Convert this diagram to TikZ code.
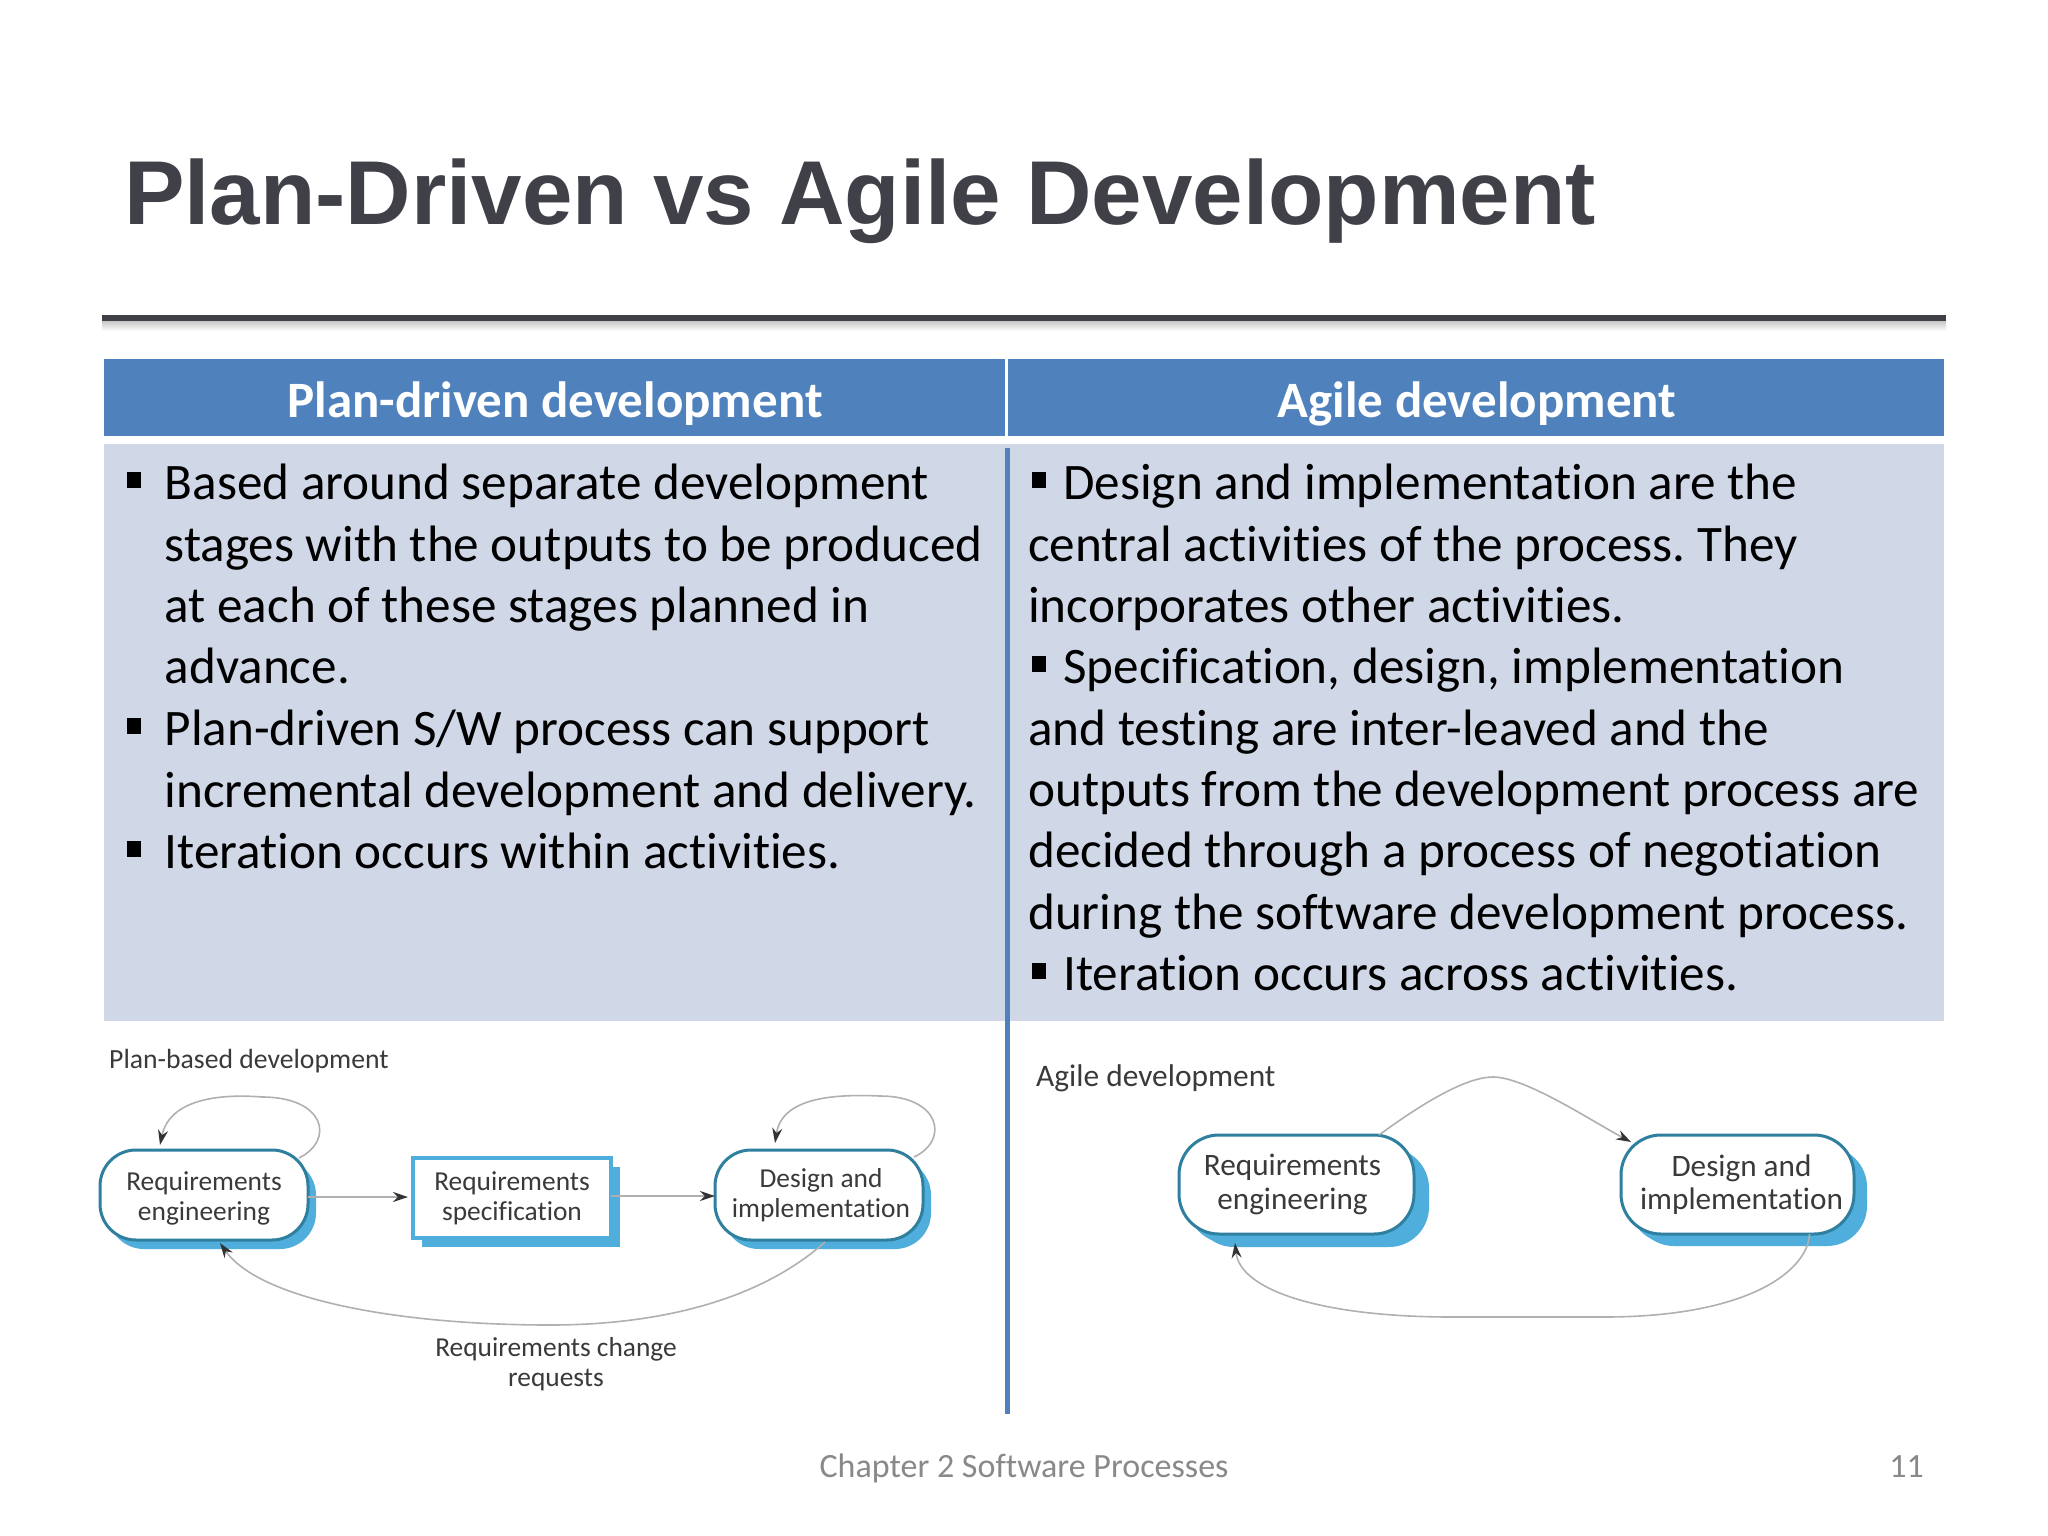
\documentclass[tikz,border=0pt]{standalone}
\usepackage{fontspec}
\setmainfont{Carlito}[Ligatures=NoCommon]
\newfontfamily\titlefont{Liberation Sans}
\usetikzlibrary{arrows.meta,shadows}
\definecolor{hdrblue}{HTML}{4F81BD}
\definecolor{bodyblue}{HTML}{D0D8E8}
\definecolor{titlegrey}{HTML}{404048}
\definecolor{footgrey}{HTML}{898989}
\definecolor{boxedge}{HTML}{2F7F9F}
\definecolor{boxshade}{HTML}{4FAEDB}
\definecolor{wiregrey}{HTML}{B0B0B0}
\definecolor{figtext}{HTML}{3A3A3A}
\tikzset{
  x=1pt,y=-1pt,
  hdrtext/.style={font=\fontsize{51}{55}\selectfont\bfseries,text=white,anchor=center,inner sep=0pt},
  bodytext/.style={font=\fontsize{51.2}{61.4}\selectfont\frenchspacing,text=black,anchor=north west,align=left,inner sep=0pt},
  bullet/.style={fill=black,minimum width=14pt,minimum height=16pt,inner sep=0pt,outer sep=0pt,anchor=north west},
  figlabel/.style={text=figtext,inner sep=0pt,align=center},
  smallfig/.style={font=\fontsize{27.4}{30}\selectfont},
  bigfig/.style={font=\fontsize{31.2}{33.5}\selectfont},
  procbox/.style={figlabel,draw=boxedge,line width=3pt,fill=white,rounded corners=36pt,outer sep=0pt,
    general shadow={fill=boxshade,shadow xshift=8pt,shadow yshift=-9pt}},
  docbox/.style={figlabel,draw=boxshade,line width=4pt,fill=white,outer sep=0pt,
    general shadow={fill=boxshade,shadow xshift=9pt,shadow yshift=-9pt}},
  wire/.style={draw=wiregrey,line width=1.6pt,-{Stealth[length=15pt,width=10pt,color=black!80]}},
}
\begin{document}
\begin{tikzpicture}
\useasboundingbox (0,0) rectangle (2048,1536);
\fill[white] (0,0) rectangle (2048,1536);
% title
\node (title) [anchor=base west,inner sep=0pt,text=titlegrey,font=\fontsize{90.7}{96}\selectfont\titlefont\bfseries] at (124,224) {Plan-Driven vs Agile Development};
\shade[top color=black!22,bottom color=white] (102,321) rectangle (1946,331);
\fill[titlegrey] (102,315) rectangle (1946,321);
% table
\fill[hdrblue] (104,359) rectangle (1004.5,436);
\fill[hdrblue] (1008,359) rectangle (1944,436);
\fill[bodyblue] (104,444) rectangle (1944,1021);
\fill[hdrblue] (1004.5,448) rectangle (1010,1414);
\node (hleft) [hdrtext] at (555,404) {Plan-driven development};
\node (hright) [hdrtext] at (1477,404) {Agile development};
% left column
\node (b1) [bullet] at (127,472) {};
\node (b2) [bullet] at (127,718) {};
\node (b3) [bullet] at (127,841) {};
\node (l1) [bodytext] at (164.5,464) {Based around separate development\\stages with the outputs to be produced\\at each of these stages planned in\\advance.};
\node (l2) [bodytext] at (164.5,710) {Plan-driven S/W process can support\\incremental development and delivery.};
\node (l3) [bodytext] at (164.5,833) {Iteration occurs within activities.};
% right column
\node (b4) [bullet] at (1032,472) {};
\node (b5) [bullet] at (1032,656) {};
\node (b6) [bullet] at (1032,963) {};
\node (r1) [bodytext] at (1028,464) {\hspace*{35pt}Design and implementation are the\\central activities of the process. They\\incorporates other activities.};
\node (r2) [bodytext] at (1028,648) {\hspace*{35pt}Specification, design, implementation\\and testing are inter-leaved and the\\outputs from the development process are\\decided through a process of negotiation\\during the software development process.};
\node (r3) [bodytext] at (1063,955) {Iteration occurs across activities.};
% left figure
\node (plancap) [figlabel,font=\fontsize{27.7}{30}\selectfont,anchor=base west] at (109,1068) {Plan-based development};
\node (reqA) [procbox,smallfig,minimum width=208pt,minimum height=90pt] at (204,1195) {\rule{0pt}{26pt}Requirements\\engineering};
\node (specA) [docbox,smallfig,minimum width=198pt,minimum height=80pt] at (512,1198) {Requirements\\specification};
\node (desA) [procbox,smallfig,minimum width=208pt,minimum height=90pt] at (819,1195) {\hspace*{4pt}Design and\\\hspace*{4pt}implementation};
\node (chg) [figlabel,smallfig] at (556,1364) {Requirements change\\requests};
\draw[wire] ([yshift=-2pt]reqA.east) -- ([xshift=-5pt,yshift=1pt]specA.west);
\draw[wire] ([yshift=2pt]specA.east) -- ([yshift=-1pt]desA.west);
\draw[wire] ([xshift=-9pt,yshift=-8pt]reqA.north east) .. controls (335,1140) and (325,1097) .. (262,1097) .. controls (225,1094) and (170,1097) .. ([xshift=60pt,yshift=5pt]reqA.north west);
\draw[wire] ([xshift=-9pt,yshift=-7pt]desA.north east) .. controls (950,1140) and (940,1096) .. (880,1096) .. controls (835,1094) and (782,1097) .. ([xshift=60pt,yshift=7pt]desA.north west);
\draw[wire] ([xshift=6pt,yshift=-2pt]desA.south) .. controls (760,1300) and (660,1325) .. (550,1325) .. controls (400,1325) and (260,1300) .. ([xshift=16pt,yshift=-3pt]reqA.south);
% right figure
\node (agilecap) [figlabel,font=\fontsize{31.4}{33}\selectfont,anchor=base west] at (1036,1086) {Agile development};
\node (reqB) [procbox,bigfig,minimum width=235pt,minimum height=99pt,rounded corners=40pt,general shadow={fill=boxshade,shadow xshift=15pt,shadow yshift=-13pt}] at (1296.5,1184.5) {Requirements\hspace*{8pt}\\engineering\hspace*{8pt}};
\node (desB) [procbox,bigfig,minimum width=233pt,minimum height=99pt,rounded corners=40pt,general shadow={fill=boxshade,shadow xshift=13pt,shadow yshift=-12pt}] at (1737.5,1184.5) {\hspace*{8pt}Design and\\\hspace*{8pt}implementation};
\draw[wire] ([xshift=-35pt]reqB.north east) .. controls (1420,1105) and (1465,1077) .. (1493,1077) .. controls (1525,1077) and (1590,1120) .. ([xshift=10pt,yshift=-7pt]desB.north west);
\draw[wire] ([xshift=72pt]desB.south) .. controls (1808,1270) and (1750,1317) .. (1604,1317) -- (1452,1317) .. controls (1320,1317) and (1240,1290) .. ([xshift=56pt,yshift=-9pt]reqB.south west);
% footer
\node (foot) [anchor=base,inner sep=0pt,text=footgrey,font=\fontsize{34}{36}\selectfont] at (1024,1477) {Chapter 2 Software Processes};
\node (page) [anchor=base east,inner sep=0pt,text=footgrey,font=\fontsize{34}{36}\selectfont] at (1924,1477) {11};
\end{tikzpicture}
\end{document}
